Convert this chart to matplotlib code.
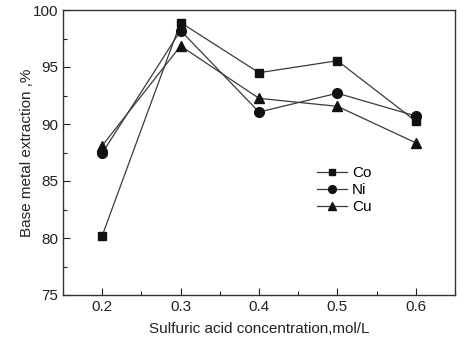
import matplotlib
matplotlib.use("Agg")
import matplotlib.pyplot as plt
from matplotlib.ticker import MultipleLocator

plt.rcParams['font.family'] = ['Liberation Sans', 'DejaVu Sans']

conc = [0.2, 0.3, 0.4, 0.5, 0.6]
co = [80.2, 98.9, 94.5, 95.55, 90.25]
ni = [87.45, 98.2, 91.05, 92.7, 90.7]
cu = [88.1, 96.85, 92.25, 91.55, 88.35]
labels = ["Co", "Ni", "Cu"]

fig = plt.figure(figsize=(4.74, 3.47), dpi=100)
ax = fig.add_axes([63/474, 1 - 295/347, (455-63)/474, (295-10)/347])

lc = '#3a3a3a'
ax.plot(conc, co, '-s', color=lc, mfc='#111111', mec='#111111', ms=6, lw=0.9, label=labels[0])
ax.plot(conc, ni, '-o', color=lc, mfc='#111111', mec='#111111', ms=7, lw=0.9, label=labels[1])
ax.plot(conc, cu, '-^', color=lc, mfc='#111111', mec='#111111', ms=7, lw=0.9, label=labels[2])

ax.set_xlim(0.15, 0.65)
ax.set_ylim(75, 100)
ax.xaxis.set_minor_locator(MultipleLocator(0.05))
ax.yaxis.set_major_locator(MultipleLocator(5))
ax.yaxis.set_minor_locator(MultipleLocator(2.5))
ax.set_xticks(conc)
ax.set_xticklabels(["0.2", "0.3", "0.4", "0.5", "0.6"])
ax.tick_params(which='both', direction='in', top=False, right=False, labelsize=11, colors='#222222')
ax.tick_params(which='major', length=5, width=0.8)
ax.tick_params(which='minor', length=3, width=0.8)
for s in ax.spines.values():
    s.set_color('#333333')
    s.set_linewidth(1.0)

ax.set_xlabel("Sulfuric acid concentration,mol/L", fontsize=11, color='#222222', labelpad=6)
ax.set_ylabel("Base metal extraction ,%", fontsize=11, color='#222222')
ax.yaxis.set_label_coords(-29/392, 0.5)

leg = ax.legend(loc='upper left', bbox_to_anchor=(0.632, 0.474), frameon=False, fontsize=11,
                handlelength=2.0, handletextpad=0.3, labelspacing=0.2, borderaxespad=0,
                markerscale=0.8)

fig.savefig("out.png", dpi=100)
